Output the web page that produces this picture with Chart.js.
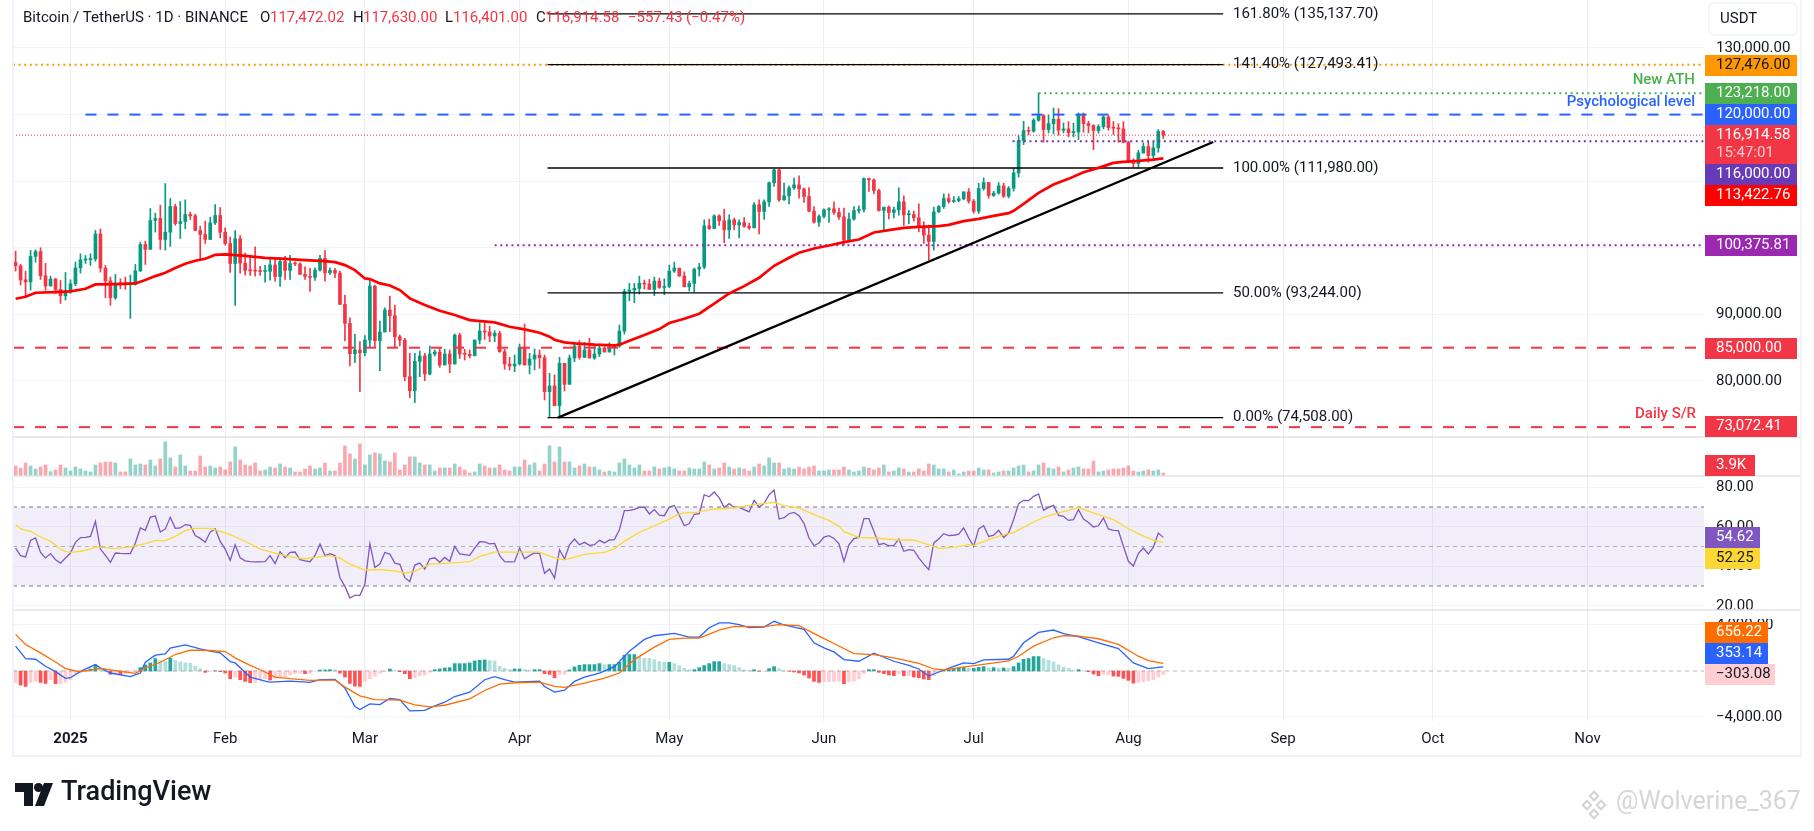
<!DOCTYPE html>
<html><head><meta charset="utf-8">
<style>html,body{margin:0;padding:0;background:#fff}canvas{display:block}</style>
<script src="https://cdn.jsdelivr.net/npm/chart.js@4"></script>
</head><body><canvas id="c" width="1814" height="831" style="width:1814px;height:831px"></canvas>
<script>
// day 0 = 1 Jan 2025; candles run from day -11 (21 Dec 2024) to day 219 (8 Aug 2025)
const firstDay = -11;
const tickDays = [0,31,59,90,120,151,181,212,243,273,304];
const tickLabels = ['2025','Feb','Mar','Apr','May','Jun','Jul','Aug','Sep','Oct','Nov'];
const priceTicks = [130000,120000,110000,100000,90000,80000];
const rsiTicks = [80,60,40,20];
const macdTicks = [4000,-4000];

const opens = [97800,97290,95186,94880,98700,99430,95800,94270,95300,93740,92790,
93576,94591,96984,98174,98236,98314,102078,96950,95040,92500,94700,94566,94488,94516,96534,100504,99756,104100,104400,101250,
102350,106200,103650,103950,105000,104800,102600,102000,101250,103750,104850,102350,100650,97650,101350,97700,96600,96550,96500,96450,96470,97430,95700,97950,96600,97650,97570,96000,
95700,95550,96650,98400,96250,96600,96200,91500,88650,84100,84650,84250,86150,94250,86050,87350,90650,89800,86650,86150,80650,78550,82950,83750,81050,84050,84350,82400,84050,82550,86900,84050,
84000,83800,86150,87500,87350,86750,87150,84400,82550,82250,82550,85050,82400,83300,83900,83500,78400,79250,76300,82650,79500,83450,85250,83550,84650,83450,84050,84950,84350,85050,
85250,87500,93450,93650,93900,94700,94550,93750,95000,94050,94200,96500,96950,95750,94150,94650,96800,97100,103300,102900,104800,104050,102700,104200,103450,103800,103250,103000,106450,105450,106900,
109750,111700,107200,107800,109000,109450,108850,107700,105500,103850,104700,105700,105850,105300,104650,101150,104300,105600,105750,110400,110200,108600,105600,106100,105300,105700,106900,104950,105000,104500,
103100,101900,100950,105400,106200,107400,106950,107100,107350,108400,107000,105500,108900,109800,107850,108200,109300,107750,108950,111250,116100,117600,117500,119150,119850,117750,118650,119300,117650,117850,117300,
117400,120000,118650,118350,117600,118200,119650,118050,117950,117850,115850,113150,112650,114250,115200,113850,115000,117472.02];
const closes = [97290,95186,94880,98700,99430,95800,94270,95300,93740,92790,93576,
94591,96984,98174,98236,98314,102078,96950,95040,92500,94700,94566,94488,94516,96534,100504,99756,104100,104400,101250,102350,
106200,103650,103950,105000,104800,102600,102000,101250,103750,104850,102350,100650,97650,101350,97700,96600,96550,96500,96450,96470,97430,95700,97950,96600,97650,97570,96000,95700,
95550,96650,98400,96250,96600,96200,91500,88650,84100,84650,84250,86150,94250,86050,87350,90650,89800,86650,86150,80650,78550,82950,83750,81050,84050,84350,82400,84050,82550,86900,84050,84000,
83800,86150,87500,87350,86750,87150,84400,82550,82250,82550,85050,82400,83300,83900,83500,78400,79250,76300,82650,79500,83450,85250,83550,84650,83450,84050,84950,84350,85050,85250,
87500,93450,93650,93900,94700,94550,93750,95000,94050,94200,96500,96950,95750,94150,94650,96800,97100,103300,102900,104800,104050,102700,104200,103450,103800,103250,103000,106450,105450,106900,109750,
111700,107200,107800,109000,109450,108850,107700,105500,103850,104700,105700,105850,105300,104650,101150,104300,105600,105750,110400,110200,108600,105600,106100,105300,105700,106900,104950,105000,104500,103100,
101900,100950,105400,106200,107400,106950,107100,107350,108400,107000,105500,108900,109800,107850,108200,109300,107750,108950,111250,116100,117600,117500,119150,119850,117750,118650,119300,117650,117850,117300,117400,
120000,118650,118350,117600,118200,119650,118050,117950,117850,115850,113150,112650,114250,115200,113850,115000,117472.02,116914.58];
const highs = [99500,97500,96500,99600,99700,100000,97650,95750,95400,95100,96300,
95200,97850,99100,98850,99100,102600,102800,97350,95600,96000,95350,95600,95900,97500,100850,101000,105900,105200,106400,109650,
107400,106550,106950,107200,105350,105050,103250,104000,104600,106500,106050,103000,101600,102600,101850,99200,98800,100150,97200,97350,98400,98350,98500,98700,98850,97900,97750,97150,
96900,97000,98850,99600,97000,96900,96500,92850,89500,87000,85900,86800,95150,94400,89000,91000,92750,91400,86900,86400,84150,84150,84500,84150,85250,84650,85050,84750,84650,87050,87150,84750,
84650,86150,88750,88650,88250,87550,87500,84750,83550,83900,85550,88550,84150,84800,84650,83900,81150,80900,83550,82650,83900,85800,86050,85800,86400,85550,85550,85150,85750,85450,
88400,93800,94650,94650,95750,95150,95250,95600,95450,95350,97400,97850,96950,96400,95000,96950,97650,104200,104300,104950,104950,105800,104950,104450,104200,104550,103700,106800,107200,107200,109850,
111800,111800,109700,109300,110450,110800,108950,109050,106200,104950,105850,106050,106900,105950,105950,105200,106200,106300,110500,110450,110350,108800,106100,106300,106100,109000,107800,105600,105500,106600,
103900,103400,106100,106350,108100,108100,107700,107700,108400,108900,107250,109700,110500,109800,108500,109800,109700,109200,111950,116850,119000,118150,119400,123218,120000,119950,121000,120900,118750,118950,118700,
120250,120250,119000,118500,118500,119850,119850,118950,118650,118950,116000,113350,114650,115750,115850,115850,117750,117630];
const lows = [96500,94400,92750,93650,97850,95250,93600,94250,93150,91650,92150,
93150,94300,96200,97650,97350,98000,96350,92500,91350,92250,93850,93750,89400,94400,96450,97500,99900,102350,99750,99650,
100200,103400,101400,102850,104250,102600,98350,100650,101250,103500,101500,100400,96300,91350,96200,95900,95850,95750,95850,94850,95150,95000,94200,95250,95250,97300,96000,95250,
93450,95100,96500,95000,96000,95500,91500,86000,82250,82750,78400,83750,85050,85000,81550,87350,87400,85050,85250,80050,77500,76750,80650,80050,80900,83750,82050,82400,81250,82550,83350,83150,
83450,83750,85550,86250,85900,85900,84300,81750,81650,81400,82400,82400,81050,81650,81900,77150,74650,76300,74650,78500,79500,82900,83250,83550,83450,83250,83650,84350,84350,83900,
85050,87050,92050,91750,93050,93800,93750,92800,93900,92950,94000,96300,95750,94150,93500,93350,95750,96850,102750,102850,103350,100750,101400,102700,101500,103050,102750,103000,102100,104250,106200,
109200,106950,107100,106600,108750,107450,106800,105400,103700,103200,104500,103800,105000,104250,100400,101250,104150,105200,105400,108450,108100,105500,102700,104350,104500,104900,103350,103600,104000,102400,
100650,98150,99650,105300,105900,106700,106800,106900,107200,106700,105200,105150,108650,107450,107700,108050,107550,107500,108500,110600,115500,117000,117350,119000,115850,117250,117100,116900,117250,116650,116650,
116250,117350,117250,114750,117200,117850,117650,117000,115850,115750,112750,112100,112100,114200,112850,113250,114350,116401];
const volumes = [13,10.4,16.9,13,9.1,11.7,14.3,5.6,7.8,14.3,10.4,
6.5,11.7,9.1,6.5,5.2,14.3,16.9,18.2,18.2,16.9,5.2,5.2,22.1,14.3,15.6,14.3,20.8,13,22.1,44.2,
23.4,11.7,27.3,13,6.5,6.5,26,11.7,13,10.4,11.7,7.8,18.2,37.7,20.8,14.3,13,16.9,6.5,7.8,11.7,10.4,15.6,11.7,10.4,5.2,5.2,9.1,
13,9.1,10.4,16.9,6.5,6.5,16.9,39,28.6,22.1,41.6,14.3,27.3,29.9,28.6,19.5,18.2,29.9,7.8,14.3,24.7,24.7,16.9,14.3,14.3,6.5,10.4,10.4,10.4,15.6,11.7,7.8,
3.9,5.2,15.6,13,10.4,10.4,14.3,7.8,6.5,11.7,11.7,20.8,14.3,16.9,6.5,15.6,39,18.2,37.7,18.2,18.2,10.4,13,15.6,11.7,11.7,7.8,5.2,6.5,5.2,
16.9,22.1,14.3,10.4,14.3,6.5,6.5,11.7,9.1,10.4,11.7,9.1,6.5,6.5,10.4,9.1,9.1,18.2,14.3,9.1,10.4,16.9,11.7,9.1,10.4,9.1,6.5,11.7,15.6,13,23.4,
16.9,16.9,9.1,10.4,9.1,11.7,9.1,11.7,13,6.5,6.5,7.8,7.8,7.8,11.7,7.8,5.2,6.5,11.7,10.4,7.8,10.4,14.3,5.2,6.5,10.4,9.1,5.2,5.2,9.1,
6.5,15.6,14.3,9.1,9.1,5.2,7.8,2.6,5.2,6.5,6.5,10.4,7.8,7.8,3.9,5.2,6.5,6.5,10.4,13,14.3,5.2,6.5,14.3,16.9,10.4,9.1,11.7,5.2,7.8,10.4,
11.7,9.1,9.1,19.5,5.2,6.5,7.8,9.1,9.1,10.4,13,6.5,5.2,6.5,7.8,6.5,7.8,3.9];
const rsiValues = [49.2,45.4,44.7,53.1,54.3,47.0,44.2,46.4,43.3,41.6,44.2,
46.7,52.1,54.5,54.6,55.1,62.7,48.7,45.5,42.0,46.7,46.5,46.4,46.4,51.8,59.4,58.2,64.9,65.4,57.3,58.9,
64.8,59.2,59.4,61.1,60.7,55.5,54.1,52.1,57.3,59.0,52.6,48.7,43.0,50.9,44.3,42.7,42.3,42.2,42.2,42.3,45.4,41.3,47.4,44.3,47.0,47.2,43.3,42.7,
42.3,45.5,51.3,45.4,46.4,45.4,34.2,29.8,23.9,25.3,25.3,31.0,51.4,39.4,41.1,47.0,46.2,41.6,41.0,34.2,32.2,40.6,41.6,38.6,43.8,44.3,42.0,44.5,42.5,50.1,46.2,45.9,
45.5,49.2,52.4,52.3,51.3,51.6,45.4,42.3,42.2,42.3,49.2,43.8,45.4,46.7,46.5,36.4,38.6,34.0,48.4,43.7,50.9,53.8,50.9,52.1,50.6,50.9,53.1,51.8,53.3,53.5,
58.5,68.2,68.3,68.8,69.8,70,66.5,68.7,65.9,65.6,70,70.8,65.9,60.5,61.6,66.3,66.6,76.2,75.2,77.6,74.6,69.8,71.7,69.8,69.8,68.7,67.5,73.4,70,71.7,76.2,
78.6,63.9,64.6,66.6,67.3,65.6,61.6,54.3,50.4,51.8,54.8,55.5,54.1,51.4,42.5,50.9,54.0,54.6,64.1,64.1,57.7,50.9,51.6,50.3,50.6,53.8,47.6,48.4,48.1,44.2,
41.1,38.3,51.8,53.8,56.5,55.5,55.7,56.3,59.4,54.3,50.1,58.9,60.5,55.1,55.7,58.2,54.6,56.8,63.6,71.7,73.4,73.2,75.4,76.6,68.3,69.8,70.8,65.8,65.3,63.2,63.6,
68.7,63.9,62.2,59.9,60.5,64.4,58.9,58.2,58.0,50.1,42.5,40.1,46.4,49.2,46.2,49.7,56.8,54.62];
const histValues = [-993,-1226,-1343,-993,-905,-993,-1080,-759,-1110,-1110,-993,
-759,-292,-146,-58,175,526,263,175,-292,-234,-321,-204,-117,-88,292,526,701,1080,905,818,
1110,905,788,701,672,409,204,-117,-58,20,-58,-175,-672,-526,-759,-905,-1022,-993,-759,-672,-788,-701,-555,-496,-350,-234,-204,-234,
-204,-29,88,88,117,88,-175,-526,-1080,-1314,-1343,-905,-672,-467,-204,-29,175,58,-58,-234,-672,-584,-409,-350,-117,117,175,263,292,642,642,642,
701,876,934,964,905,876,409,234,117,175,175,117,88,117,117,-234,-292,-584,-321,-292,88,350,496,555,555,555,642,555,555,555,
759,1372,1431,1431,1226,1110,1080,993,818,759,759,642,467,234,117,117,292,467,642,818,818,642,555,467,292,88,58,117,-20,-20,204,
380,204,20,-29,-88,-175,-350,-613,-905,-993,-934,-934,-905,-876,-1110,-934,-876,-672,-234,117,117,-117,-234,-350,-409,-234,-409,-409,-526,-584,
-701,-759,-409,-117,58,117,146,234,321,234,234,321,380,292,292,234,263,234,380,701,1022,1080,1256,1256,1080,934,788,526,350,234,29,
117,29,-58,-263,-409,-321,-321,-438,-467,-642,-818,-1051,-993,-934,-847,-759,-526,-303.08];

const maDays = [-11,-9,-7,-3,0,3,5,9,13,15,17,19,21,23,25,27,29,31,35,39,43,47,51,53,55,57,59,60,62,64,66,68,71,74,77,80,85,88,91,94,96,97,99,101,105,109,110,112,115,118,120,123,126,129,132,135,138,141,144,146,149,152,155,158,161,164,167,170,174,176,179,182,185,188,189,191,194,197,200,203,206,209,211,214,217,219];
const maValues = [92350,92650,93250,93350,93450,93850,94500,94550,94650,95150,95750,96250,96950,97600,98050,98350,98950,99000,98800,98500,98350,98150,98000,97850,97400,96650,95400,95300,94650,94350,93650,92400,91400,90550,89900,89150,88800,88150,87750,87250,86650,86200,85800,85650,85450,85350,85450,86050,86900,87800,88700,89350,90100,91600,93150,94250,95500,97300,98500,99250,99900,100350,100850,101250,102300,102650,103000,103150,103250,103450,104000,104350,104800,105200,105550,106600,108250,109500,110350,111350,112000,112750,112900,113050,113250,113422.76];
const rsiMaDays = [-11,-10,-8,-6,-4,-2,-1,0,2,4,5,7,9,12,15,17,19,21,23,25,28,30,32,34,36,38,41,44,47,49,52,54,56,59,62,65,67,69,72,76,80,82,85,89,94,97,99,103,107,109,111,114,117,120,122,124,125,129,133,137,141,143,146,149,152,154,155,158,161,166,169,172,174,177,180,181,184,187,189,192,195,198,202,205,209,212,214,217,219];
const rsiMaValues = [61.1,58.9,57.7,54.8,52.6,48.7,47.4,47.0,47.6,48.7,49.8,49.4,48.9,49.8,51.4,53.1,52.9,55.1,58.0,59.2,59.2,57.7,56.0,53.8,51.4,48.7,46.7,44.7,43.8,44.5,45.4,44.2,41.1,38.1,38.3,37.6,36.6,37.4,41.1,41.6,42.3,45.0,47.2,47.2,47.2,44.2,43.2,46.0,47.0,48.9,52.6,57.2,60.5,63.9,66.5,67.3,67.0,69.0,69.5,71.2,72.4,70.7,69.5,66.1,63.2,60.2,57.5,54.6,54.3,53.3,53.3,50.8,49.1,49.6,50.9,50.6,53.5,56.0,57.0,61.1,64.8,67.0,69.7,67.0,63.6,59.0,56.5,53.1,52.25];
const macdDays = [-11,-9,-7,-5,-3,-1,0,2,5,6,8,12,14,15,17,19,20,23,26,28,30,32,33,36,39,40,44,48,50,53,55,57,58,60,62,64,66,68,71,73,75,77,80,83,85,87,89,94,95,97,99,101,103,106,109,112,115,117,121,124,126,128,130,132,134,136,139,141,143,147,149,151,153,155,158,161,165,168,170,172,174,177,179,181,183,188,189,191,194,197,199,202,206,210,213,216,219];
const macdValues = [2161,1080,1022,409,-58,-642,-584,-29,555,263,-175,-496,-175,759,1372,1489,1986,2278,1927,1723,1577,818,701,-526,-876,-964,-876,-993,-759,-730,-1489,-3095,-3358,-2862,-2920,-2394,-2482,-3475,-3416,-3037,-2716,-2219,-1840,-759,-496,-759,-964,-876,-1343,-1840,-1664,-905,-526,-175,380,1723,2745,3066,3270,2949,2949,3767,4176,4176,4030,3767,3825,4322,4000,3621,2453,2015,1664,993,847,1548,847,496,175,-438,-88,409,701,642,964,1022,1285,2453,3358,3562,3241,2979,2453,1956,701,204,353.14];
const signalDays = [-11,-9,-6,-3,-1,1,2,6,10,13,15,18,21,24,28,31,33,36,39,41,44,48,50,53,55,58,61,64,66,69,72,75,80,83,86,89,94,97,99,103,107,110,113,117,120,123,126,130,133,139,142,146,150,153,157,161,165,170,173,175,180,188,190,193,197,199,202,206,210,214,216,219];
const signalValues = [3183,2307,1577,788,204,0,-58,234,-29,-204,263,759,1431,1810,1781,1694,1139,496,-88,-526,-672,-818,-788,-788,-1402,-2161,-2482,-2511,-2540,-2949,-3124,-2978,-2424,-1694,-1139,-1022,-964,-1343,-1431,-1051,-613,-175,993,2073,2745,2862,2862,3562,3884,3854,4030,3942,3037,2394,1518,1431,1139,672,175,88,409,876,1285,2161,2891,3066,3037,2803,2307,1285,905,656.22];

const fibPrices = [135137.70,127493.41,111980,93244,74508];
const fibTexts = ['161.80% (135,137.70)','141.40% (127,493.41)','100.00% (111,980.00)','50.00% (93,244.00)','0.00% (74,508.00)'];
const fibDays = [95.6,231];
const trendDays = [97.7,229];
const trendPrices = [74508,115886];
const levelRows = [
 {v:127476,from:-11.52,color:'#ff9800',w:2,dash:[2,3.6]},
 {v:123218,from:194,color:'#4caf50',w:2,dash:[2,3.6]},
 {v:120000,from:3,color:'#2962ff',w:2,dash:[11,11]},
 {v:116914.58,from:-11.52,color:'#f23645',w:1,dash:[1,2]},
 {v:116000,from:188.8,color:'#673ab7',w:2,dash:[2,3.6]},
 {v:100375.81,from:85,color:'#9c27b0',w:2,dash:[2,3.6]},
 {v:85000,from:-11.52,color:'#f23645',w:2,dash:[11,11]},
 {v:73072.41,from:-11.52,color:'#f23645',w:2,dash:[11,11]}
];

const FONT = 'Roboto, "Liberation Sans", sans-serif';
const GREEN='#089981', RED='#f23645';
const XMIN=-11.52, XMAX=327.35;
const days = closes.map((_,i)=>firstDay+i);
const up = closes.map((c,i)=>c>=opens[i]);
const pairs=(xs,ys)=>xs.map((x,i)=>({x,y:ys[i]}));
const seg=(xa,xb,v)=>[{x:xa,y:v},{x:xb,y:v}];
const lineDs=(data,color,w,axis,order,dash)=>({type:'line',data,borderColor:color,borderWidth:w,borderDash:dash||[],pointRadius:0,tension:0,yAxisID:axis,order,parsing:{xAxisKey:'x',yAxisKey:'y'},spanGaps:true});
const histColor = histValues.map((h,i)=>{const p=i?histValues[i-1]:h;return h>=0?(h>=p?'#26a69a':'#b2dfdb'):(h<p?'#ff5252':'#ffcdd2');});

const datasets=[
 {type:'bar',data:days.map((d,i)=>({x:d,y:[lows[i],highs[i]]})),backgroundColor:up.map(u=>u?GREEN:RED),barThickness:1,grouped:false,yAxisID:'y',order:9},
 {type:'bar',data:days.map((d,i)=>({x:d,y:[opens[i],closes[i]]})),backgroundColor:up.map(u=>u?GREEN:RED),barThickness:3,grouped:false,minBarLength:1,yAxisID:'y',order:8},
 lineDs(pairs(maDays,maValues),'#ff0000',2.7,'y',4),
 lineDs(pairs(trendDays,trendPrices),'#000000',2.4,'y',2),
 ...fibPrices.map(v=>lineDs(seg(fibDays[0],fibDays[1],v),'#000000',1.3,'y',5)),
 ...levelRows.map(r=>lineDs(seg(r.from,XMAX,r.v),r.color,r.w,'y',6,r.dash)),
 {type:'bar',data:days.map((d,i)=>({x:d,y:volumes[i]})),backgroundColor:up.map(u=>u?'rgba(8,153,129,.43)':'rgba(242,54,69,.43)'),barThickness:3,grouped:false,yAxisID:'yVol',order:9},
 lineDs(seg(XMIN,XMAX,70),'#787b86',1,'yRsi',7,[4,4]),
 lineDs(seg(XMIN,XMAX,50),'rgba(120,123,134,.55)',1,'yRsi',7,[4,4]),
 lineDs(seg(XMIN,XMAX,30),'#787b86',1,'yRsi',7,[4,4]),
 lineDs(pairs(days,rsiValues),'#7e57c2',1.3,'yRsi',3),
 lineDs(pairs(rsiMaDays,rsiMaValues),'#fdd835',1.3,'yRsi',2),
 lineDs(seg(XMIN,XMAX,0),'rgba(120,123,134,.55)',1,'yMacd',7,[4,4]),
 {type:'bar',data:days.map((d,i)=>({x:d,y:histValues[i]})),backgroundColor:histColor,barThickness:3,grouped:false,yAxisID:'yMacd',order:9},
 lineDs(pairs(macdDays,macdValues),'#2962ff',1.3,'yMacd',3),
 lineDs(pairs(signalDays,signalValues),'#ff6d00',1.3,'yMacd',2)
];

const fixTicks=list=>s=>{s.ticks=list.map(v=>({value:v}));};
const noPad=s=>{s.paddingTop=0;s.paddingBottom=0;s.paddingLeft=0;s.paddingRight=0;};
const w110=s=>{s.width=110;noPad(s);};
const yCommon=(weight,min,max,list,fmt)=>({type:'linear',position:'right',stack:'panes',stackWeight:weight,min,max,
 border:{display:false},grid:{color:'#f0f3fa',drawTicks:false,display:list.length>0},
 afterBuildTicks:fixTicks(list),afterFit:w110,
 ticks:{display:list.length>0,autoSkip:false,padding:12,color:'#131722',font:{family:FONT,size:15},callback:fmt}});
const money=v=>(v<0?'\u2212':'')+Math.abs(v).toLocaleString('en-US',{minimumFractionDigits:2,maximumFractionDigits:2});

function txt(ctx,s,x,y,color,opt){opt=opt||{};ctx.font=(opt.weight||'400')+' '+(opt.size||15)+'px '+FONT;ctx.fillStyle=color;ctx.textAlign=opt.align||'left';ctx.textBaseline='middle';ctx.fillText(s,x,y);}

const paneLines=[437,476,610];
const tagRows=[
 {t:'127,476.00',y0:55,y1:76,r:1797,bg:'#ff9800',fg:'#131722'},
 {t:'123,218.00',y0:83,y1:104,r:1797,bg:'#4caf50',fg:'#fff'},
 {t:'120,000.00',y0:104,y1:125,r:1797,bg:'#2962ff',fg:'#fff'},
 {t:'116,914.58',y0:125,y1:164,r:1797,bg:'#f23645',fg:'#fff',sub:'15:47:01'},
 {t:'116,000.00',y0:164,y1:185,r:1797,bg:'#673ab7',fg:'#fff'},
 {t:'113,422.76',y0:185,y1:206,r:1797,bg:'#ff0000',fg:'#fff'},
 {t:'100,375.81',y0:235,y1:256,r:1797,bg:'#9c27b0',fg:'#fff'},
 {t:'85,000.00',y0:338,y1:359,r:1797,bg:'#f23645',fg:'#fff'},
 {t:'73,072.41',y0:416,y1:437,r:1797,bg:'#f23645',fg:'#fff'},
 {t:'3.9K',y0:455,y1:476,r:1755,bg:'#f23645',fg:'#fff'},
 {t:'54.62',y0:527,y1:548,r:1760,bg:'#7e57c2',fg:'#fff'},
 {t:'52.25',y0:548,y1:569,r:1760,bg:'#fdd835',fg:'#131722'},
 {t:'656.22',y0:622,y1:643,r:1768,bg:'#ff6d00',fg:'#fff'},
 {t:'353.14',y0:643,y1:664,r:1768,bg:'#2962ff',fg:'#fff'},
 {t:'\u2212303.08',y0:664,y1:685,r:1775,bg:'#ffcdd2',fg:'#131722'}
];
const headerBits=[
 ['Bitcoin / TetherUS \u00b7 1D \u00b7 BINANCE',23,'#131722'],['O',260,'#131722'],['117,472.02',270,RED],
 ['H',353,'#131722'],['117,630.00',363,RED],['L',445,'#131722'],['116,401.00',453,RED],
 ['C',536,'#131722'],['116,914.58',545,RED],['\u2212557.43',628,RED],['(\u22120.47%)',686,RED]
];

const overlay={id:'overlay',
 beforeDatasetsDraw(ch){const c=ch.ctx,r=ch.scales.yRsi,a=ch.chartArea;c.save();c.fillStyle='rgba(126,87,194,.1)';
  const t=r.getPixelForValue(70),b=r.getPixelForValue(30);c.fillRect(a.left,t,a.right-a.left,b-t);c.restore();},
 afterDraw(ch){const c=ch.ctx,Y=ch.scales.y;c.save();
  // frame and pane separators
  c.fillStyle='#fff';c.fillRect(1705,611,94,8);
  c.strokeStyle='#e0e3eb';c.lineWidth=1.5;
  paneLines.forEach(y=>{c.beginPath();c.moveTo(13,y);c.lineTo(1801,y);c.stroke();});
  c.strokeStyle='#f0f3fa';c.lineWidth=2;c.beginPath();c.moveTo(13,0);c.lineTo(13,756);c.lineTo(1801,756);c.lineTo(1801,0);c.stroke();
  // header
  headerBits.forEach(b=>txt(c,b[0],b[1],18,b[2]));
  // fib labels
  fibPrices.forEach((v,i)=>txt(c,fibTexts[i],1233,Y.getPixelForValue(v),'#131722'));
  txt(c,'New ATH',1695,80,'#4caf50',{align:'right',weight:'500'});
  txt(c,'Psychological level',1695,102,'#2962ff',{align:'right',weight:'500'});
  txt(c,'Daily S/R',1696,414,RED,{align:'right',weight:'500'});
  // USDT box
  c.strokeStyle='#f0f3fa';c.lineWidth=1.5;c.beginPath();c.roundRect(1709,3,88,32,5);c.stroke();
  txt(c,'USDT',1720,19,'#131722');
  // tags
  tagRows.forEach(g=>{c.fillStyle=g.bg;c.fillRect(1705,g.y0,g.r-1705,g.y1-g.y0);
   const cy=g.sub?135:(g.y0+g.y1)/2;txt(c,g.t,1716,cy,g.fg);
   if(g.sub)txt(c,g.sub,1716,153,'rgba(255,255,255,.75)');});
  // logo
  c.fillStyle='#131722';c.beginPath();c.moveTo(15,783);c.lineTo(33,783);c.lineTo(33,806);c.lineTo(24,806);c.lineTo(24,792);c.lineTo(15,792);c.closePath();c.fill();
  c.beginPath();c.arc(38.5,787.5,4.5,0,Math.PI*2);c.fill();
  c.beginPath();c.moveTo(44,783);c.lineTo(53,783);c.lineTo(44,806);c.lineTo(35,806);c.closePath();c.fill();
  txt(c,'TradingView',61,793,'#131722',{size:27,weight:'500'});
  // watermark
  c.strokeStyle='#d4d4d4';c.lineWidth=2;[[1594,796],[1587,805],[1601,805],[1594,814]].forEach(p=>{c.save();c.translate(p[0],p[1]);c.rotate(Math.PI/4);c.strokeRect(-3,-3,6,6);c.restore();});
  txt(c,'@Wolverine_367',1616,803,'#d6d6d6',{size:25});
  c.restore();}
};

new Chart(document.getElementById('c'),{
 type:'line',
 data:{datasets},
 plugins:[overlay],
 options:{responsive:false,animation:false,devicePixelRatio:1,
  layout:{autoPadding:false,padding:{left:13,right:0,top:0,bottom:0}},
  plugins:{legend:{display:false},tooltip:{enabled:false},title:{display:false}},
  scales:{
   x:{type:'linear',min:XMIN,max:XMAX,offset:false,position:'bottom',
    border:{display:false},grid:{color:'#eceef2',offset:false,drawTicks:false},
    afterBuildTicks:fixTicks(tickDays),
    afterFit:s=>{s.height=110;noPad(s);},
    ticks:{autoSkip:false,maxRotation:0,padding:9,color:'#131722',
     font:c=>({family:FONT,size:15,weight:c.index===0?'700':'400'}),
     callback:v=>tickLabels[tickDays.indexOf(v)]}},
   y:yCommon(437,71590,137207,priceTicks,money),
   yVol:yCommon(39,0,50.5,[],money),
   yRsi:yCommon(134,17.85,85.7,rsiTicks,money),
   yMacd:yCommon(111,-4348,5304,macdTicks,money)
  }}
});
</script></body></html>
